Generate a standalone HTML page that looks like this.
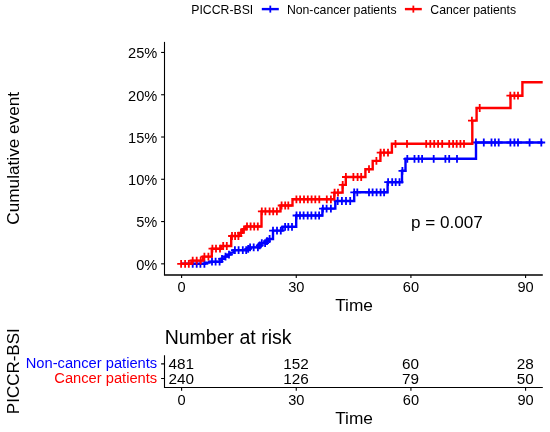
<!DOCTYPE html>
<html><head><meta charset="utf-8"><title>Cumulative event plot</title>
<style>
html,body{margin:0;padding:0;background:#fff;}
svg{display:block;}
text{font-family:"Liberation Sans", Arial, Helvetica, sans-serif;fill:#000;}
</style></head><body>
<svg width="550" height="432" viewBox="0 0 550 432">
<rect x="0" y="0" width="550" height="432" fill="#fff"/>

<text x="191.3" y="13.9" font-size="12.25">PICCR-BSI</text>
<g stroke="#0000FF" fill="none"><path d="M261.8,9.1H278.8" stroke-width="2.4"/><path d="M270.3,5.6V12.6" stroke-width="1.8"/></g>
<text x="286.9" y="13.9" font-size="12.25">Non-cancer patients</text>
<g stroke="#FF0000" fill="none"><path d="M404.9,9.1H421.8" stroke-width="2.4"/><path d="M413.35,5.6V12.6" stroke-width="1.8"/></g>
<text x="430.3" y="13.9" font-size="12.25">Cancer patients</text>
<g stroke="#000" stroke-width="1.1" fill="none">
<path d="M164.5,41.9V274.9"/><path d="M163.95,274.9H542.8" stroke-width="1.5"/>
<path d="M161.1,263.83H164.5"/>
<path d="M161.1,221.56H164.5"/>
<path d="M161.1,179.28H164.5"/>
<path d="M161.1,137.01H164.5"/>
<path d="M161.1,94.74H164.5"/>
<path d="M161.1,52.47H164.5"/>
<path d="M181.60,274.9V278"/>
<path d="M296.26,274.9V278"/>
<path d="M410.92,274.9V278"/>
<path d="M525.58,274.9V278"/>
</g>
<text x="157.3" y="269.73" font-size="14.6" text-anchor="end">0%</text>
<text x="157.3" y="227.46" font-size="14.6" text-anchor="end">5%</text>
<text x="157.3" y="185.19" font-size="14.6" text-anchor="end">10%</text>
<text x="157.3" y="142.91" font-size="14.6" text-anchor="end">15%</text>
<text x="157.3" y="100.64" font-size="14.6" text-anchor="end">20%</text>
<text x="157.3" y="58.37" font-size="14.6" text-anchor="end">25%</text>
<text x="181.60" y="291.6" font-size="14.6" text-anchor="middle">0</text>
<text x="296.26" y="291.6" font-size="14.6" text-anchor="middle">30</text>
<text x="410.92" y="291.6" font-size="14.6" text-anchor="middle">60</text>
<text x="525.58" y="291.6" font-size="14.6" text-anchor="middle">90</text>
<text x="354.1" y="310.8" font-size="17.3" text-anchor="middle">Time</text>
<text transform="translate(19.1,158.3) rotate(-90)" x="0" y="0" font-size="17.2" text-anchor="middle">Cumulative event</text>
<text x="411.0" y="228.2" font-size="17.1">p = 0.007</text>
<g fill="none" stroke-linecap="butt" stroke-linejoin="miter">
<path d="M181.6,263.8H205.0V262.6H209.5V261.7H221.5V258.8H224.5V256.6H227.5V254.6H230.5V252.6H233.5V250.2H247.8V248.8H249.2V247.4H259.3V245.3H260.6V243.2H266.3V241.2H268.0V239.0H273.0V230.6H282.5V226.8H296.2V215.5H322.4V208.6H335.3V201.0H354.2V192.3H387.6V182.2H402.0V170.8H405.5V158.8H476.0V142.5H542.7" stroke="#0000FF" stroke-width="2.4"/>
<path d="M188.8,263.8h7.8M192.7,259.9v7.8M192.8,263.8h7.8M196.7,259.9v7.8M196.5,263.8h7.8M200.4,259.9v7.8M200.5,263.8h7.8M204.4,259.9v7.8M208.1,261.7h7.8M212.0,257.8v7.8M211.7,261.7h7.8M215.6,257.8v7.8M215.7,261.7h7.8M219.6,257.8v7.8M218.1,258.8h7.8M222.0,254.9v7.8M221.6,256.6h7.8M225.5,252.7v7.8M225.1,254.6h7.8M229.0,250.7v7.8M231.0,250.2h7.8M234.9,246.3v7.8M234.7,250.2h7.8M238.6,246.3v7.8M238.9,250.2h7.8M242.8,246.3v7.8M242.3,250.2h7.8M246.2,246.3v7.8M244.3,248.8h7.8M248.2,244.9v7.8M246.2,247.4h7.8M250.1,243.5v7.8M249.8,247.4h7.8M253.7,243.5v7.8M254.0,247.4h7.8M257.9,243.5v7.8M255.9,245.3h7.8M259.8,241.4v7.8M257.9,243.2h7.8M261.8,239.3v7.8M261.2,243.2h7.8M265.1,239.3v7.8M263.1,241.2h7.8M267.0,237.3v7.8M265.7,239.0h7.8M269.6,235.1v7.8M269.1,230.6h7.8M273.0,226.7v7.8M273.1,230.6h7.8M277.0,226.7v7.8M276.9,230.6h7.8M280.8,226.7v7.8M281.2,226.8h7.8M285.1,222.9v7.8M284.4,226.8h7.8M288.3,222.9v7.8M288.1,226.8h7.8M292.0,222.9v7.8M292.6,215.5h7.8M296.5,211.6v7.8M296.1,215.5h7.8M300.0,211.6v7.8M299.7,215.5h7.8M303.6,211.6v7.8M303.8,215.5h7.8M307.7,211.6v7.8M307.5,215.5h7.8M311.4,211.6v7.8M311.6,215.5h7.8M315.5,211.6v7.8M315.2,215.5h7.8M319.1,211.6v7.8M319.0,208.6h7.8M322.9,204.7v7.8M322.7,208.6h7.8M326.6,204.7v7.8M327.0,208.6h7.8M330.9,204.7v7.8M333.8,201.0h7.8M337.7,197.1v7.8M338.0,201.0h7.8M341.9,197.1v7.8M342.1,201.0h7.8M346.0,197.1v7.8M346.3,201.0h7.8M350.2,197.1v7.8M350.3,192.3h7.8M354.2,188.4v7.8M353.4,192.3h7.8M357.3,188.4v7.8M365.1,192.3h7.8M369.0,188.4v7.8M368.7,192.3h7.8M372.6,188.4v7.8M372.7,192.3h7.8M376.6,188.4v7.8M376.7,192.3h7.8M380.6,188.4v7.8M380.2,192.3h7.8M384.1,188.4v7.8M384.2,182.2h7.8M388.1,178.3v7.8M388.3,182.2h7.8M392.2,178.3v7.8M391.8,182.2h7.8M395.7,178.3v7.8M395.6,182.2h7.8M399.5,178.3v7.8M398.5,170.8h7.8M402.4,166.9v7.8M403.4,158.8h7.8M407.3,154.9v7.8M410.6,158.8h7.8M414.5,154.9v7.8M414.7,158.8h7.8M418.6,154.9v7.8M418.2,158.8h7.8M422.1,154.9v7.8M429.8,158.8h7.8M433.7,154.9v7.8M441.5,158.8h7.8M445.4,154.9v7.8M445.3,158.8h7.8M449.2,154.9v7.8M453.1,158.8h7.8M457.0,154.9v7.8M472.0,142.5h7.8M475.9,138.6v7.8M479.9,142.5h7.8M483.8,138.6v7.8M487.6,142.5h7.8M491.5,138.6v7.8M491.1,142.5h7.8M495.0,138.6v7.8M494.8,142.5h7.8M498.7,138.6v7.8M506.5,142.5h7.8M510.4,138.6v7.8M510.5,142.5h7.8M514.4,138.6v7.8M514.1,142.5h7.8M518.0,138.6v7.8M525.7,142.5h7.8M529.6,138.6v7.8M537.4,142.5h7.8M541.3,138.6v7.8" stroke="#0000FF" stroke-width="1.8"/>
<path d="M181.6,263.8H191.5V260.6H203.0V256.6H211.8V248.7H221.2V246.0H231.2V236.0H238.8V232.9H242.5V229.3H245.7V226.5H261.5V211.4H280.5V205.5H292.5V199.3H334.3V192.6H342.6V184.9H345.8V177.0H365.4V169.2H372.7V160.9H380.4V152.6H391.9V143.8H472.3V120.6H476.6V108.0H510.5V95.7H522.4V82.3H542.7" stroke="#FF0000" stroke-width="2.4"/>
<path d="M177.2,263.8h7.8M181.1,259.9v7.8M181.2,263.8h7.8M185.1,259.9v7.8M184.9,263.8h7.8M188.8,259.9v7.8M188.8,260.6h7.8M192.7,256.7v7.8M192.8,260.6h7.8M196.7,256.7v7.8M196.8,260.6h7.8M200.7,256.7v7.8M200.5,256.6h7.8M204.4,252.7v7.8M204.5,256.6h7.8M208.4,252.7v7.8M208.5,248.7h7.8M212.4,244.8v7.8M212.1,248.7h7.8M216.0,244.8v7.8M216.1,248.7h7.8M220.0,244.8v7.8M219.3,246.0h7.8M223.2,242.1v7.8M222.9,246.0h7.8M226.8,242.1v7.8M228.1,236.0h7.8M232.0,232.1v7.8M231.2,236.0h7.8M235.1,232.1v7.8M234.5,236.0h7.8M238.4,232.1v7.8M237.1,232.9h7.8M241.0,229.0v7.8M240.1,229.3h7.8M244.0,225.4v7.8M243.1,226.5h7.8M247.0,222.6v7.8M246.7,226.5h7.8M250.6,222.6v7.8M250.3,226.5h7.8M254.2,222.6v7.8M253.9,226.5h7.8M257.8,222.6v7.8M257.9,211.4h7.8M261.8,207.5v7.8M261.5,211.4h7.8M265.4,207.5v7.8M265.7,211.4h7.8M269.6,207.5v7.8M269.3,211.4h7.8M273.2,207.5v7.8M273.0,211.4h7.8M276.9,207.5v7.8M277.7,205.5h7.8M281.6,201.6v7.8M281.3,205.5h7.8M285.2,201.6v7.8M284.4,205.5h7.8M288.3,201.6v7.8M292.5,199.3h7.8M296.4,195.4v7.8M296.2,199.3h7.8M300.1,195.4v7.8M300.1,199.3h7.8M304.0,195.4v7.8M303.9,199.3h7.8M307.8,195.4v7.8M307.7,199.3h7.8M311.6,195.4v7.8M311.4,199.3h7.8M315.3,195.4v7.8M315.4,199.3h7.8M319.3,195.4v7.8M322.9,199.3h7.8M326.8,195.4v7.8M327.0,199.3h7.8M330.9,195.4v7.8M330.7,192.6h7.8M334.6,188.7v7.8M334.1,192.6h7.8M338.0,188.7v7.8M338.8,184.9h7.8M342.7,181.0v7.8M342.0,177.0h7.8M345.9,173.1v7.8M349.5,177.0h7.8M353.4,173.1v7.8M353.7,177.0h7.8M357.6,173.1v7.8M357.4,177.0h7.8M361.2,173.1v7.8M365.1,169.2h7.8M369.0,165.3v7.8M372.5,160.9h7.8M376.4,157.0v7.8M376.7,152.6h7.8M380.6,148.7v7.8M380.1,152.6h7.8M384.0,148.7v7.8M384.1,152.6h7.8M388.0,148.7v7.8M391.6,143.8h7.8M395.5,139.9v7.8M403.1,143.8h7.8M407.0,139.9v7.8M422.3,143.8h7.8M426.2,139.9v7.8M426.4,143.8h7.8M430.3,139.9v7.8M430.3,143.8h7.8M434.2,139.9v7.8M434.2,143.8h7.8M438.1,139.9v7.8M438.3,143.8h7.8M442.2,139.9v7.8M445.3,143.8h7.8M449.2,139.9v7.8M449.2,143.8h7.8M453.1,139.9v7.8M452.8,143.8h7.8M456.7,139.9v7.8M456.5,143.8h7.8M460.4,139.9v7.8M460.1,143.8h7.8M464.0,139.9v7.8M468.0,120.6h7.8M471.9,116.7v7.8M475.8,108.0h7.8M479.7,104.1v7.8M506.4,95.7h7.8M510.3,91.8v7.8M510.5,95.7h7.8M514.4,91.8v7.8M514.1,95.7h7.8M518.0,91.8v7.8" stroke="#FF0000" stroke-width="1.8"/>
</g>
<text x="164.7" y="343.7" font-size="19.5">Number at risk</text>
<g stroke="#000" stroke-width="1.1" fill="none">
<path d="M164.5,355.2V387.5H542.8"/>
<path d="M161.1,363.9H164.5M161.1,378.5H164.5"/>
<path d="M181.60,387.5V390.8"/>
<path d="M296.26,387.5V390.8"/>
<path d="M410.92,387.5V390.8"/>
<path d="M525.58,387.5V390.8"/>
</g>
<text x="157.2" y="367.9" font-size="14.7" text-anchor="end" style="fill:#0000FF">Non-cancer patients</text>
<text x="157.2" y="382.7" font-size="14.7" text-anchor="end" style="fill:#FF0000">Cancer patients</text>
<text x="181.30" y="369.4" font-size="15.3" text-anchor="middle">481</text>
<text x="181.30" y="384.0" font-size="15.3" text-anchor="middle">240</text>
<text x="295.96" y="369.4" font-size="15.3" text-anchor="middle">152</text>
<text x="295.96" y="384.0" font-size="15.3" text-anchor="middle">126</text>
<text x="410.62" y="369.4" font-size="15.3" text-anchor="middle">60</text>
<text x="410.62" y="384.0" font-size="15.3" text-anchor="middle">79</text>
<text x="525.28" y="369.4" font-size="15.3" text-anchor="middle">28</text>
<text x="525.28" y="384.0" font-size="15.3" text-anchor="middle">50</text>
<text x="181.60" y="404.6" font-size="14.6" text-anchor="middle">0</text>
<text x="296.26" y="404.6" font-size="14.6" text-anchor="middle">30</text>
<text x="410.92" y="404.6" font-size="14.6" text-anchor="middle">60</text>
<text x="525.58" y="404.6" font-size="14.6" text-anchor="middle">90</text>
<text x="354.1" y="423.7" font-size="17.3" text-anchor="middle">Time</text>
<text transform="translate(18.7,371.2) rotate(-90)" x="0" y="0" font-size="17" text-anchor="middle">PICCR-BSI</text>
</svg>
</body></html>
